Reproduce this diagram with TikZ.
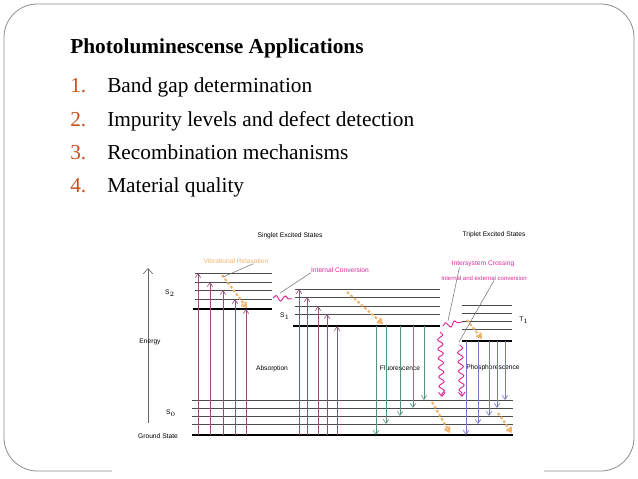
\documentclass[tikz,border=0pt]{standalone}
\usepackage{fontspec}
\setmainfont{Liberation Serif}
\newfontfamily\dsans{Liberation Sans}
\usetikzlibrary{decorations.pathmorphing,arrows.meta}
\definecolor{numc}{RGB}{200,80,30}
\definecolor{absc}{RGB}{150,80,120}
\definecolor{fluc}{RGB}{80,150,130}
\definecolor{phoc}{RGB}{120,120,190}
\definecolor{vibc}{RGB}{240,180,110}
\definecolor{magc}{RGB}{220,40,150}
\begin{document}
\begin{tikzpicture}[x=0.75pt,y=-0.75pt,
  lvl/.style={line width=0.5pt,black!70},
  thick lvl/.style={line width=2.2pt,black},
  lab/.style={font=\dsans\fontsize{5}{6}\selectfont,inner sep=0pt},
  abs/.style={absc,line width=0.5pt,-{Straight Barb[length=3pt,width=4pt]}},
  flu/.style={fluc,line width=0.5pt,-{Straight Barb[length=3pt,width=4pt]}},
  pho/.style={phoc,line width=0.5pt,-{Straight Barb[length=3pt,width=4pt]}},
  vib/.style={vibc,line width=1.6pt,dash pattern=on 2pt off 1.5pt,-{Straight Barb[length=3pt,width=4pt]}},
  wav/.style={magc,line width=0.7pt,decorate,decoration={snake,amplitude=2pt,segment length=7pt}},
  lead/.style={black!55,line width=0.4pt},
  item/.style={font=\fontsize{16}{18}\selectfont,anchor=base west,inner sep=0pt},
  num/.style={item,text=numc}]
\useasboundingbox (0,0) rectangle (638,478);
\draw[black!45,line width=0.6pt,rounded corners=25pt] (112,471) -- (4,471) -- (4,4) -- (634,4) -- (634,471) -- (544,471);
\node[font=\bfseries\fontsize{16}{18}\selectfont,anchor=base west,inner sep=0pt] (title) at (70,54) {Photoluminescense Applications};
\node[num] (n1) at (70,93) {1.}; \node[item] (t1) at (107,93) {Band gap determination};
\node[num] (n2) at (70,126) {2.}; \node[item] (t2) at (107,126) {Impurity levels and defect detection};
\node[num] (n3) at (70,159) {3.}; \node[item] (t3) at (107,159) {Recombination mechanisms};
\node[num] (n4) at (70,192) {4.}; \node[item] (t4) at (107,192) {Material quality};
% levels
\foreach \y in {400,408,416,424} \draw[lvl] (192,\y) -- (513,\y);
\draw[thick lvl] (192,435) -- (513,435);
\foreach \y in {273,282,290,299} \draw[lvl] (195,\y) -- (272,\y);
\draw[thick lvl] (193,309) -- (272,309);
\foreach \y in {289,297,306,314} \draw[lvl] (295,\y) -- (440,\y);
\draw[thick lvl] (293,326) -- (440,326);
\foreach \y in {305,313,321,329} \draw[lvl] (462,\y) -- (512,\y);
\draw[thick lvl] (462,341) -- (512,341);
% energy
\coordinate (eb) at (148,423); \coordinate (et) at (148,268);
\draw[black!60,line width=0.5pt,-{Straight Barb[length=4pt,width=7pt]}] (eb) -- (et);
\node[lab] (en) at (150,342) {Energy};
\node[lab] (gs) at (158,436) {Ground State};
\node[lab] (s0) at (171,413) {S$_0$};
\node[lab] (s2) at (170,293) {S$_2$};
\node[lab] (s1) at (285,316) {S$_1$};
\node[lab] (t1l) at (524,320) {T$_1$};
\node[lab] (sing) at (290,236) {Singlet Excited States};
\node[lab] (trip) at (494,235) {Triplet Excited States};
\node[lab] (absl) at (272,369) {Absorption};
\node[lab] (flul) at (400,368) {Fluorescence};
\node[lab] (phol) at (493,368) {Phosphorescence};
\node[lab,text=vibc] (vibl) at (236,261) {Vibrational Relaxation};
\node[lab,text=magc] (icl) at (340,270) {Internal Conversion};
\node[lab,text=magc] (iscl) at (483,264) {Intersystem Crossing};
\node[lab,text=magc,font=\dsans\fontsize{4.5}{5}\selectfont] (iecl) at (484,278) {Internal and external conversion};
% absorption
\foreach \x/\y in {198/273,210/282,223/290,235/299,246/309,299/289,307/297,318/306,327/314,337/326}
  \draw[abs] (\x,435) -- (\x,\y);
% fluorescence
\foreach \x/\y in {376/435,386/424,400/416,413/408,424/400}
  \draw[flu] (\x,326) -- (\x,\y);
% phosphorescence
\foreach \x/\y in {466/435,478/424,489/416,497/408,505/400}
  \draw[pho] (\x,341) -- (\x,\y);
% vibrational relaxation
\draw[vib] (222,275) -- (247,308);
\draw[vib] (347,292) -- (383,324);
\draw[vib] (432,402) -- (450,433);
\draw[vib] (467,320) -- (482,339);
\draw[vib] (498,413) -- (512,433);
\draw[lead] (vibl.south west) ++(50,0) -- (223,277);
% wavy
\draw[wav] (273,298) -- (292,299);
\draw[wav] (443,326) -- (462,322);
\draw[wav,-{Straight Barb[length=3pt,width=5pt]}] (440,332) -- (442,397);
\draw[wav,-{Straight Barb[length=3pt,width=5pt]}] (460,345) -- (462,397);
% leaders
\draw[lead] (icl.south west) -- (280,293);
\draw[lead] (iscl.south west) ++(8,0) -- (448,321);
\draw[lead] (iecl.south) ++(10,0) -- (459,342);
\end{tikzpicture}
\end{document}
